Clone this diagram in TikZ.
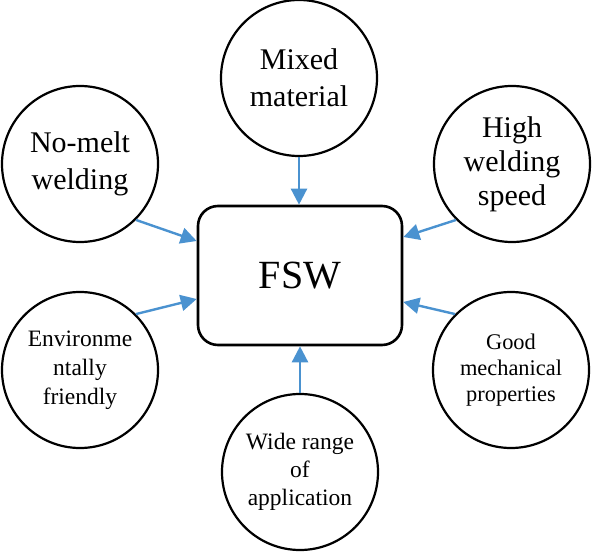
\documentclass[tikz,border=0pt]{standalone}
\usepackage{fontspec}
\setmainfont{Liberation Serif}
\usepackage{tikz}
\usetikzlibrary{arrows.meta}
\definecolor{linkblue}{RGB}{74,146,208}
\tikzset{
  bubble/.style={circle, draw, line width=2.2pt, minimum size=156pt, inner sep=0pt, align=center},
  link/.style={-{Triangle[length=16pt,width=16pt]}, line width=2.4pt, draw=linkblue}
}

\begin{document}
\begin{tikzpicture}[x=1pt, y=1pt]

        % Frame
        \useasboundingbox (0,0) rectangle (593,552);

        % Centre box
        \node[draw, line width=2.6pt, rounded corners=20pt, minimum width=204pt, minimum height=139pt,
              font=\fontsize{40}{48}\selectfont] (fsw) at (300,276.5) {FSW};

        % Circles
        \node[bubble, font=\fontsize{30}{37}\selectfont] (mixed) at (299,474) {Mixed\\material};
        \node[bubble, font=\fontsize{30}{37}\selectfont] (nomelt) at (80,388) {No-melt\\welding};
        \node[bubble, font=\fontsize{30}{34}\selectfont] (speed) at (512,388) {High\\welding\\speed};
        \node[bubble, font=\fontsize{23.5}{29}\selectfont] (eco) at (80,182) {Environme\\ntally\\friendly};
        \node[bubble, font=\fontsize{22.4}{26}\selectfont] (props) at (511,182) {Good\\mechanical\\properties};
        \node[bubble, font=\fontsize{23.5}{28}\selectfont] (range) at (300,80) {Wide range\\of\\application};

        % Arrows into the box
        \draw[link] (mixed.south) -- (fsw.north -| mixed.south);
        \draw[link] (range.north) -- (fsw.south -| range.north);
        \draw[link] (nomelt.-45) -- ([yshift=34.5pt]fsw.west);
        \draw[link] (eco.45) -- ([yshift=-23.5pt]fsw.west);
        \draw[link] (speed.225) -- ([yshift=38.5pt]fsw.east);
        \draw[link] (props.135) -- ([yshift=-26.5pt]fsw.east);

    \end{tikzpicture}
\end{document}
